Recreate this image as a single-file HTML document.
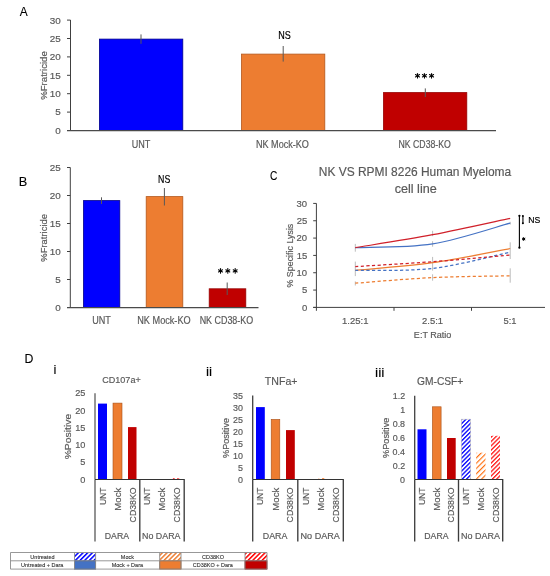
<!DOCTYPE html>
<html><head><meta charset="utf-8"><style>
html,body{margin:0;padding:0;background:#fff;width:550px;height:576px;overflow:hidden}
svg{display:block;will-change:transform}
text{font-family:"Liberation Sans",sans-serif}
</style></head><body>
<svg width="550" height="576" viewBox="0 0 550 576">
<defs><pattern id="hb" patternUnits="userSpaceOnUse" width="3.05" height="3.05" patternTransform="rotate(45)"><rect x="0" y="0" width="1.4" height="3.05" fill="#1010FF"/></pattern><pattern id="ho" patternUnits="userSpaceOnUse" width="3.75" height="3.75" patternTransform="rotate(45)"><rect x="0" y="0" width="1.15" height="3.75" fill="#FF6C0A"/></pattern><pattern id="hr" patternUnits="userSpaceOnUse" width="3.05" height="3.05" patternTransform="rotate(45)"><rect x="0" y="0" width="1.3" height="3.05" fill="#FF1A1A"/></pattern><pattern id="lhb" patternUnits="userSpaceOnUse" width="3.3" height="3.3" patternTransform="rotate(45)"><rect x="0" y="0" width="1.5" height="3.3" fill="#0000FF"/></pattern><pattern id="lho" patternUnits="userSpaceOnUse" width="3.3" height="3.3" patternTransform="rotate(45)"><rect x="0" y="0" width="1.5" height="3.3" fill="#ED7D31"/></pattern><pattern id="lhr" patternUnits="userSpaceOnUse" width="3.3" height="3.3" patternTransform="rotate(45)"><rect x="0" y="0" width="1.5" height="3.3" fill="#FF0000"/></pattern></defs>
<rect width="550" height="576" fill="#fff"/>
<text transform="translate(19.78,15.76) scale(0.877,1)" font-size="13.60" fill="#000" stroke="#000" stroke-width="0.1">A</text>
<line x1="67" y1="130.5" x2="70.5" y2="130.5" stroke="#404040" stroke-width="1" />
<text transform="translate(55.27,133.91) scale(1.000,1)" font-size="9.90" fill="#595959" stroke="#595959" stroke-width="0.18">0</text>
<line x1="67" y1="112.1" x2="70.5" y2="112.1" stroke="#404040" stroke-width="1" />
<text transform="translate(55.31,115.46) scale(1.000,1)" font-size="9.90" fill="#595959" stroke="#595959" stroke-width="0.18">5</text>
<line x1="67" y1="93.7" x2="70.5" y2="93.7" stroke="#404040" stroke-width="1" />
<text transform="translate(49.77,97.11) scale(1.000,1)" font-size="9.90" fill="#595959" stroke="#595959" stroke-width="0.18">10</text>
<line x1="67" y1="75.30000000000001" x2="70.5" y2="75.30000000000001" stroke="#404040" stroke-width="1" />
<text transform="translate(49.81,78.66) scale(1.000,1)" font-size="9.90" fill="#595959" stroke="#595959" stroke-width="0.18">15</text>
<line x1="67" y1="56.900000000000006" x2="70.5" y2="56.900000000000006" stroke="#404040" stroke-width="1" />
<text transform="translate(49.77,60.31) scale(1.000,1)" font-size="9.90" fill="#595959" stroke="#595959" stroke-width="0.18">20</text>
<line x1="67" y1="38.5" x2="70.5" y2="38.5" stroke="#404040" stroke-width="1" />
<text transform="translate(49.81,41.91) scale(1.000,1)" font-size="9.90" fill="#595959" stroke="#595959" stroke-width="0.18">25</text>
<line x1="67" y1="20.10000000000001" x2="70.5" y2="20.10000000000001" stroke="#404040" stroke-width="1" />
<text transform="translate(49.77,23.51) scale(1.000,1)" font-size="9.90" fill="#595959" stroke="#595959" stroke-width="0.18">30</text>
<line x1="70.5" y1="20" x2="70.5" y2="131" stroke="#404040" stroke-width="1" />
<rect x="99.4" y="39.1" width="83.40" height="91.40" fill="#0000FF" stroke="#00008C" stroke-width="0.8"/>
<rect x="241.5" y="54.1" width="83.30" height="76.40" fill="#ED7D31" stroke="#B4581C" stroke-width="0.8"/>
<rect x="383.5" y="92.6" width="83.30" height="37.90" fill="#C00000" stroke="#960000" stroke-width="0.8"/>
<line x1="67" y1="130.5" x2="496" y2="130.5" stroke="#4A4A4A" stroke-width="1.25" />
<line x1="141" y1="34.4" x2="141" y2="43.8" stroke="#595959" stroke-width="1" />
<line x1="283.2" y1="46" x2="283.2" y2="61.6" stroke="#595959" stroke-width="1" />
<line x1="425.3" y1="88.4" x2="425.3" y2="97" stroke="#595959" stroke-width="1" />
<text transform="translate(278.16,38.58) scale(0.903,1)" font-size="10.00" fill="#000" stroke="#000" stroke-width="0.18">NS</text>
<line x1="417.5" y1="73.4" x2="417.5" y2="78.1" stroke="#000" stroke-width="1.05" stroke-linecap="round"/>
<line x1="415.46" y1="74.58" x2="419.54" y2="76.92" stroke="#000" stroke-width="1.05" stroke-linecap="round"/>
<line x1="415.46" y1="76.92" x2="419.54" y2="74.58" stroke="#000" stroke-width="1.05" stroke-linecap="round"/>
<line x1="424.45" y1="73.4" x2="424.45" y2="78.1" stroke="#000" stroke-width="1.05" stroke-linecap="round"/>
<line x1="422.41" y1="74.58" x2="426.49" y2="76.92" stroke="#000" stroke-width="1.05" stroke-linecap="round"/>
<line x1="422.41" y1="76.92" x2="426.49" y2="74.58" stroke="#000" stroke-width="1.05" stroke-linecap="round"/>
<line x1="431.55" y1="73.4" x2="431.55" y2="78.1" stroke="#000" stroke-width="1.05" stroke-linecap="round"/>
<line x1="429.51" y1="74.58" x2="433.59" y2="76.92" stroke="#000" stroke-width="1.05" stroke-linecap="round"/>
<line x1="429.51" y1="76.92" x2="433.59" y2="74.58" stroke="#000" stroke-width="1.05" stroke-linecap="round"/>
<text transform="translate(131.79,147.60) scale(0.897,1)" font-size="10.10" fill="#595959" stroke="#595959" stroke-width="0.18">UNT</text>
<text transform="translate(255.96,147.60) scale(0.899,1)" font-size="10.10" fill="#595959" stroke="#595959" stroke-width="0.18">NK Mock-KO</text>
<text transform="translate(398.48,147.60) scale(0.865,1)" font-size="10.10" fill="#595959" stroke="#595959" stroke-width="0.18">NK CD38-KO</text>
<text transform="translate(46.71,99.85) rotate(-90) scale(1.041,1)" font-size="9.26" fill="#595959" stroke="#595959" stroke-width="0.18">%Fratricide</text>
<text transform="translate(18.85,185.88) scale(0.968,1)" font-size="13.20" fill="#000" stroke="#000" stroke-width="0.1">B</text>
<line x1="67" y1="307.5" x2="70.3" y2="307.5" stroke="#404040" stroke-width="1" />
<text transform="translate(55.27,310.91) scale(1.000,1)" font-size="9.90" fill="#595959" stroke="#595959" stroke-width="0.18">0</text>
<line x1="67" y1="279.5" x2="70.3" y2="279.5" stroke="#404040" stroke-width="1" />
<text transform="translate(55.31,282.86) scale(1.000,1)" font-size="9.90" fill="#595959" stroke="#595959" stroke-width="0.18">5</text>
<line x1="67" y1="251.5" x2="70.3" y2="251.5" stroke="#404040" stroke-width="1" />
<text transform="translate(49.77,254.91) scale(1.000,1)" font-size="9.90" fill="#595959" stroke="#595959" stroke-width="0.18">10</text>
<line x1="67" y1="223.5" x2="70.3" y2="223.5" stroke="#404040" stroke-width="1" />
<text transform="translate(49.81,226.86) scale(1.000,1)" font-size="9.90" fill="#595959" stroke="#595959" stroke-width="0.18">15</text>
<line x1="67" y1="195.5" x2="70.3" y2="195.5" stroke="#404040" stroke-width="1" />
<text transform="translate(49.77,198.91) scale(1.000,1)" font-size="9.90" fill="#595959" stroke="#595959" stroke-width="0.18">20</text>
<line x1="67" y1="167.5" x2="70.3" y2="167.5" stroke="#404040" stroke-width="1" />
<text transform="translate(49.81,170.91) scale(1.000,1)" font-size="9.90" fill="#595959" stroke="#595959" stroke-width="0.18">25</text>
<line x1="70.3" y1="167.5" x2="70.3" y2="308" stroke="#404040" stroke-width="1" />
<rect x="83.5" y="200.6" width="36.30" height="106.90" fill="#0000FF" stroke="#00008C" stroke-width="0.8"/>
<rect x="146.2" y="196.6" width="36.60" height="110.90" fill="#ED7D31" stroke="#B4581C" stroke-width="0.8"/>
<rect x="209.2" y="288.8" width="36.60" height="18.70" fill="#C00000" stroke="#960000" stroke-width="0.8"/>
<line x1="67" y1="307.5" x2="258.5" y2="307.5" stroke="#4A4A4A" stroke-width="1.25" />
<line x1="101.5" y1="197.3" x2="101.5" y2="204" stroke="#595959" stroke-width="1" />
<line x1="164.4" y1="188" x2="164.4" y2="205.5" stroke="#595959" stroke-width="1" />
<line x1="227.2" y1="282.5" x2="227.2" y2="295" stroke="#595959" stroke-width="1" />
<text transform="translate(158.08,182.68) scale(0.880,1)" font-size="10.00" fill="#000" stroke="#000" stroke-width="0.18">NS</text>
<line x1="220.5" y1="268.6" x2="220.5" y2="273.2" stroke="#000" stroke-width="1.05" stroke-linecap="round"/>
<line x1="218.51" y1="269.75" x2="222.49" y2="272.05" stroke="#000" stroke-width="1.05" stroke-linecap="round"/>
<line x1="218.51" y1="272.05" x2="222.49" y2="269.75" stroke="#000" stroke-width="1.05" stroke-linecap="round"/>
<line x1="227.8" y1="268.6" x2="227.8" y2="273.2" stroke="#000" stroke-width="1.05" stroke-linecap="round"/>
<line x1="225.81" y1="269.75" x2="229.79" y2="272.05" stroke="#000" stroke-width="1.05" stroke-linecap="round"/>
<line x1="225.81" y1="272.05" x2="229.79" y2="269.75" stroke="#000" stroke-width="1.05" stroke-linecap="round"/>
<line x1="235.2" y1="268.6" x2="235.2" y2="273.2" stroke="#000" stroke-width="1.05" stroke-linecap="round"/>
<line x1="233.21" y1="269.75" x2="237.19" y2="272.05" stroke="#000" stroke-width="1.05" stroke-linecap="round"/>
<line x1="233.21" y1="272.05" x2="237.19" y2="269.75" stroke="#000" stroke-width="1.05" stroke-linecap="round"/>
<text transform="translate(92.29,324.20) scale(0.897,1)" font-size="10.10" fill="#595959" stroke="#595959" stroke-width="0.18">UNT</text>
<text transform="translate(137.25,324.20) scale(0.908,1)" font-size="10.10" fill="#595959" stroke="#595959" stroke-width="0.18">NK Mock-KO</text>
<text transform="translate(199.67,324.20) scale(0.884,1)" font-size="10.10" fill="#595959" stroke="#595959" stroke-width="0.18">NK CD38-KO</text>
<text transform="translate(46.81,261.64) rotate(-90) scale(1.033,1)" font-size="9.13" fill="#595959" stroke="#595959" stroke-width="0.18">%Fratricide</text>
<text transform="translate(269.99,180.35) scale(0.765,1)" font-size="13.40" fill="#000" stroke="#000" stroke-width="0.1">C</text>
<text transform="translate(318.82,175.99) scale(1.005,1)" font-size="11.90" fill="#595959" stroke="#595959" stroke-width="0.18">NK VS RPMI 8226 Human Myeloma</text>
<text transform="translate(394.67,192.60) scale(1.061,1)" font-size="11.90" fill="#595959" stroke="#595959" stroke-width="0.18">cell line</text>
<line x1="313.2" y1="307.4" x2="316.4" y2="307.4" stroke="#404040" stroke-width="1" />
<text transform="translate(301.88,310.70) scale(0.990,1)" font-size="9.60" fill="#595959" stroke="#595959" stroke-width="0.18">0</text>
<line x1="313.2" y1="290.07" x2="316.4" y2="290.07" stroke="#404040" stroke-width="1" />
<text transform="translate(301.91,293.32) scale(0.990,1)" font-size="9.60" fill="#595959" stroke="#595959" stroke-width="0.18">5</text>
<line x1="313.2" y1="272.74" x2="316.4" y2="272.74" stroke="#404040" stroke-width="1" />
<text transform="translate(296.59,276.04) scale(0.990,1)" font-size="9.60" fill="#595959" stroke="#595959" stroke-width="0.18">10</text>
<line x1="313.2" y1="255.40999999999997" x2="316.4" y2="255.40999999999997" stroke="#404040" stroke-width="1" />
<text transform="translate(296.63,258.66) scale(0.990,1)" font-size="9.60" fill="#595959" stroke="#595959" stroke-width="0.18">15</text>
<line x1="313.2" y1="238.07999999999998" x2="316.4" y2="238.07999999999998" stroke="#404040" stroke-width="1" />
<text transform="translate(296.59,241.38) scale(0.990,1)" font-size="9.60" fill="#595959" stroke="#595959" stroke-width="0.18">20</text>
<line x1="313.2" y1="220.75" x2="316.4" y2="220.75" stroke="#404040" stroke-width="1" />
<text transform="translate(296.63,224.05) scale(0.990,1)" font-size="9.60" fill="#595959" stroke="#595959" stroke-width="0.18">25</text>
<line x1="313.2" y1="203.42" x2="316.4" y2="203.42" stroke="#404040" stroke-width="1" />
<text transform="translate(296.59,206.72) scale(0.990,1)" font-size="9.60" fill="#595959" stroke="#595959" stroke-width="0.18">30</text>
<line x1="316.4" y1="203.4" x2="316.4" y2="310.8" stroke="#404040" stroke-width="1" />
<line x1="313.2" y1="307.4" x2="545" y2="307.4" stroke="#404040" stroke-width="1" />
<line x1="394" y1="307.4" x2="394" y2="310.8" stroke="#404040" stroke-width="1" />
<line x1="471.5" y1="307.4" x2="471.5" y2="310.8" stroke="#404040" stroke-width="1" />
<text transform="translate(342.08,323.89) scale(1.020,1)" font-size="9.30" fill="#595959" stroke="#595959" stroke-width="0.18">1.25:1</text>
<text transform="translate(422.03,323.89) scale(1.017,1)" font-size="9.30" fill="#595959" stroke="#595959" stroke-width="0.18">2.5:1</text>
<text transform="translate(503.53,323.80) scale(1.008,1)" font-size="9.30" fill="#595959" stroke="#595959" stroke-width="0.18">5:1</text>
<text transform="translate(413.86,337.62) scale(1.005,1)" font-size="9.00" fill="#595959" stroke="#595959" stroke-width="0.18">E:T Ratio</text>
<text transform="translate(293.27,287.52) rotate(-90) scale(0.916,1)" font-size="9.70" fill="#595959" stroke="#595959" stroke-width="0.18">% Specific Lysis</text>
<line x1="355.3" y1="243.9" x2="355.3" y2="251.7" stroke="#BCBCBC" stroke-width="1.0" />
<line x1="355.3" y1="261.6" x2="355.3" y2="276.1" stroke="#BCBCBC" stroke-width="1.0" />
<line x1="355.3" y1="281.4" x2="355.3" y2="285.5" stroke="#BCBCBC" stroke-width="1.0" />
<line x1="432.6" y1="230.8" x2="432.6" y2="236.2" stroke="#BCBCBC" stroke-width="1.0" />
<line x1="432.6" y1="241.2" x2="432.6" y2="246.7" stroke="#BCBCBC" stroke-width="1.0" />
<line x1="432.6" y1="256.9" x2="432.6" y2="270.6" stroke="#BCBCBC" stroke-width="1.0" />
<line x1="432.6" y1="274.3" x2="432.6" y2="280.7" stroke="#BCBCBC" stroke-width="1.0" />
<line x1="510.2" y1="221.8" x2="510.2" y2="224.6" stroke="#BCBCBC" stroke-width="1.0" />
<line x1="510.2" y1="242.3" x2="510.2" y2="259.0" stroke="#BCBCBC" stroke-width="1.0" />
<line x1="510.2" y1="268.3" x2="510.2" y2="282.7" stroke="#BCBCBC" stroke-width="1.0" />
<path d="M355.30,283.20 C368.18,282.27 406.78,278.83 432.60,277.60 C458.42,276.37 497.27,276.10 510.20,275.80" fill="none" stroke="#ED7D31" stroke-width="1.25" stroke-dasharray="3.2,2.4"/>
<path d="M355.30,270.40 C368.18,269.12 406.78,266.35 432.60,262.70 C458.42,259.05 497.27,250.87 510.20,248.50" fill="none" stroke="#ED7D31" stroke-width="1.25"/>
<path d="M355.30,270.40 C368.18,270.07 406.78,271.43 432.60,268.40 C458.42,265.37 497.27,254.90 510.20,252.20" fill="none" stroke="#4472C4" stroke-width="1.25" stroke-dasharray="3.2,2.4"/>
<path d="M355.30,266.60 C368.18,265.78 406.78,263.62 432.60,261.70 C458.42,259.78 497.27,256.20 510.20,255.10" fill="none" stroke="#D0202A" stroke-width="1.25" stroke-dasharray="3.2,2.4"/>
<path d="M355.30,247.70 C368.18,247.07 406.78,248.00 432.60,243.90 C458.42,239.80 497.27,226.57 510.20,223.10" fill="none" stroke="#4472C4" stroke-width="1.25"/>
<path d="M355.30,247.70 C368.18,245.53 406.78,239.60 432.60,234.70 C458.42,229.80 497.27,221.03 510.20,218.30" fill="none" stroke="#D0202A" stroke-width="1.25"/>
<line x1="519.4" y1="215.5" x2="519.4" y2="248" stroke="#000" stroke-width="1.1" />
<circle cx="519.4" cy="215.8" r="1.1" fill="#000"/><circle cx="519.4" cy="247.7" r="1.1" fill="#000"/>
<line x1="522.9" y1="215.8" x2="522.9" y2="223.5" stroke="#555" stroke-width="1.6" />
<circle cx="522.9" cy="216" r="1.0" fill="#000"/><circle cx="522.9" cy="223.3" r="1.0" fill="#000"/>
<text transform="translate(528.19,223.21) scale(0.971,1)" font-size="8.90" fill="#000" stroke="#000" stroke-width="0.18">NS</text>
<line x1="523.65" y1="237.55" x2="523.65" y2="240.45" stroke="#000" stroke-width="1.0" stroke-linecap="round"/>
<line x1="522.39" y1="238.28" x2="524.91" y2="239.72" stroke="#000" stroke-width="1.0" stroke-linecap="round"/>
<line x1="522.39" y1="239.72" x2="524.91" y2="238.28" stroke="#000" stroke-width="1.0" stroke-linecap="round"/>
<text transform="translate(24.39,362.51) scale(0.941,1)" font-size="13.10" fill="#000" stroke="#000" stroke-width="0.1">D</text>
<text transform="translate(53.54,373.88) scale(1.000,1)" font-size="13.10" fill="#000" stroke="#000" stroke-width="0.1">i</text>
<text transform="translate(205.99,375.76) scale(1.050,1)" font-size="13.20" fill="#000" stroke="#000" stroke-width="0.1">ii</text>
<text transform="translate(375.06,376.67) scale(1.050,1)" font-size="13.50" fill="#000" stroke="#000" stroke-width="0.1">iii</text>
<rect x="98" y="403.6" width="9.00" height="75.90" fill="#0000FF" />
<rect x="113" y="403.1" width="9.00" height="76.40" fill="#ED7D31" stroke="#A85018" stroke-width="0.6"/>
<rect x="128" y="427.1" width="8.50" height="52.40" fill="#C00000" />
<rect x="172.5" y="478.2" width="8.00" height="1.30" fill="url(#hr)" />
<line x1="95" y1="393.2" x2="95" y2="479.5" stroke="#5E5E5E" stroke-width="1.3" />
<line x1="95" y1="479.5" x2="95" y2="541.6" stroke="#5E5E5E" stroke-width="1.35" />
<line x1="139.8" y1="479.5" x2="139.8" y2="541.6" stroke="#3C3C3C" stroke-width="1.35" />
<line x1="184.2" y1="479.5" x2="184.2" y2="541.6" stroke="#3C3C3C" stroke-width="1.35" />
<line x1="95" y1="479.5" x2="184.7" y2="479.5" stroke="#333" stroke-width="1.1" />
<text transform="translate(80.33,482.80) scale(0.960,1)" font-size="9.60" fill="#595959" stroke="#595959" stroke-width="0.18">0</text>
<text transform="translate(80.36,465.45) scale(0.960,1)" font-size="9.60" fill="#595959" stroke="#595959" stroke-width="0.18">5</text>
<text transform="translate(75.20,448.20) scale(0.960,1)" font-size="9.60" fill="#595959" stroke="#595959" stroke-width="0.18">10</text>
<text transform="translate(75.24,430.85) scale(0.960,1)" font-size="9.60" fill="#595959" stroke="#595959" stroke-width="0.18">15</text>
<text transform="translate(75.20,413.60) scale(0.960,1)" font-size="9.60" fill="#595959" stroke="#595959" stroke-width="0.18">20</text>
<text transform="translate(75.24,396.30) scale(0.960,1)" font-size="9.60" fill="#595959" stroke="#595959" stroke-width="0.18">25</text>
<text transform="translate(70.50,459.37) rotate(-90) scale(1.043,1)" font-size="9.95" fill="#595959" stroke="#595959" stroke-width="0.18">%Positive</text>
<text transform="translate(102.25,382.81) scale(0.957,1)" font-size="9.46" fill="#595959" stroke="#595959" stroke-width="0.18">CD107a+</text>
<text transform="translate(105.59,505.09) rotate(-90) scale(0.930,1)" font-size="9.20" fill="#595959" stroke="#595959" stroke-width="0.18">UNT</text>
<text transform="translate(120.68,510.79) rotate(-90) scale(1.050,1)" font-size="9.20" fill="#595959" stroke="#595959" stroke-width="0.18">Mock</text>
<text transform="translate(135.50,522.44) rotate(-90) scale(0.955,1)" font-size="9.20" fill="#595959" stroke="#595959" stroke-width="0.18">CD38KO</text>
<text transform="translate(150.32,505.09) rotate(-90) scale(0.930,1)" font-size="9.20" fill="#595959" stroke="#595959" stroke-width="0.18">UNT</text>
<text transform="translate(165.28,510.79) rotate(-90) scale(1.050,1)" font-size="9.20" fill="#595959" stroke="#595959" stroke-width="0.18">Mock</text>
<text transform="translate(179.96,522.44) rotate(-90) scale(0.955,1)" font-size="9.20" fill="#595959" stroke="#595959" stroke-width="0.18">CD38KO</text>
<text transform="translate(104.78,538.60) scale(0.957,1)" font-size="9.16" fill="#595959" stroke="#595959" stroke-width="0.18">DARA</text>
<text transform="translate(141.97,538.51) scale(0.985,1)" font-size="9.03" fill="#595959" stroke="#595959" stroke-width="0.18">No DARA</text>
<rect x="256" y="407.1" width="8.80" height="72.40" fill="#0000FF" />
<rect x="271.2" y="419.4" width="8.60" height="60.10" fill="#ED7D31" stroke="#A85018" stroke-width="0.6"/>
<rect x="286" y="430.1" width="8.80" height="49.40" fill="#C00000" />
<rect x="318.5" y="478.0" width="8.00" height="1.50" fill="url(#ho)" />
<line x1="252.7" y1="395.6" x2="252.7" y2="479.5" stroke="#404040" stroke-width="1.3" />
<line x1="252.7" y1="479.5" x2="252.7" y2="541.6" stroke="#404040" stroke-width="1.35" />
<line x1="297.8" y1="479.5" x2="297.8" y2="541.6" stroke="#3C3C3C" stroke-width="1.35" />
<line x1="343.3" y1="479.5" x2="343.3" y2="541.6" stroke="#3C3C3C" stroke-width="1.35" />
<line x1="252.7" y1="479.5" x2="343.8" y2="479.5" stroke="#333" stroke-width="1.1" />
<text transform="translate(237.98,482.80) scale(0.960,1)" font-size="9.30" fill="#595959" stroke="#595959" stroke-width="0.18">0</text>
<text transform="translate(238.01,470.75) scale(0.960,1)" font-size="9.30" fill="#595959" stroke="#595959" stroke-width="0.18">5</text>
<text transform="translate(233.01,458.80) scale(0.960,1)" font-size="9.30" fill="#595959" stroke="#595959" stroke-width="0.18">10</text>
<text transform="translate(233.05,446.75) scale(0.960,1)" font-size="9.30" fill="#595959" stroke="#595959" stroke-width="0.18">15</text>
<text transform="translate(233.01,434.80) scale(0.960,1)" font-size="9.30" fill="#595959" stroke="#595959" stroke-width="0.18">20</text>
<text transform="translate(233.05,422.80) scale(0.960,1)" font-size="9.30" fill="#595959" stroke="#595959" stroke-width="0.18">25</text>
<text transform="translate(233.01,410.80) scale(0.960,1)" font-size="9.30" fill="#595959" stroke="#595959" stroke-width="0.18">30</text>
<text transform="translate(233.05,398.80) scale(0.960,1)" font-size="9.30" fill="#595959" stroke="#595959" stroke-width="0.18">35</text>
<text transform="translate(228.51,457.93) rotate(-90) scale(1.062,1)" font-size="8.58" fill="#595959" stroke="#595959" stroke-width="0.18">%Positive</text>
<text transform="translate(264.77,384.69) scale(0.927,1)" font-size="11.46" fill="#595959" stroke="#595959" stroke-width="0.18">TNFa+</text>
<text transform="translate(263.34,505.09) rotate(-90) scale(0.930,1)" font-size="9.20" fill="#595959" stroke="#595959" stroke-width="0.18">UNT</text>
<text transform="translate(278.53,510.79) rotate(-90) scale(1.050,1)" font-size="9.20" fill="#595959" stroke="#595959" stroke-width="0.18">Mock</text>
<text transform="translate(293.45,522.44) rotate(-90) scale(0.955,1)" font-size="9.20" fill="#595959" stroke="#595959" stroke-width="0.18">CD38KO</text>
<text transform="translate(308.50,505.09) rotate(-90) scale(0.930,1)" font-size="9.20" fill="#595959" stroke="#595959" stroke-width="0.18">UNT</text>
<text transform="translate(323.83,510.79) rotate(-90) scale(1.050,1)" font-size="9.20" fill="#595959" stroke="#595959" stroke-width="0.18">Mock</text>
<text transform="translate(338.88,522.44) rotate(-90) scale(0.955,1)" font-size="9.20" fill="#595959" stroke="#595959" stroke-width="0.18">CD38KO</text>
<text transform="translate(262.77,538.60) scale(0.969,1)" font-size="9.16" fill="#595959" stroke="#595959" stroke-width="0.18">DARA</text>
<text transform="translate(300.56,538.51) scale(1.006,1)" font-size="9.03" fill="#595959" stroke="#595959" stroke-width="0.18">No DARA</text>
<rect x="417.5" y="429.3" width="9.00" height="50.20" fill="#0000FF" />
<rect x="432.4" y="406.8" width="8.70" height="72.70" fill="#ED7D31" stroke="#A85018" stroke-width="0.6"/>
<rect x="447" y="438" width="8.70" height="41.50" fill="#C00000" />
<rect x="461.3" y="419.2" width="9.40" height="60.30" fill="url(#hb)" stroke="#BFBFBF" stroke-width="0.6"/>
<rect x="476.2" y="452.7" width="9.30" height="26.80" fill="url(#ho)" />
<rect x="491" y="435.8" width="9.00" height="43.70" fill="url(#hr)" />
<line x1="414.7" y1="395.8" x2="414.7" y2="479.5" stroke="#404040" stroke-width="1.3" />
<line x1="414.7" y1="479.5" x2="414.7" y2="541.6" stroke="#404040" stroke-width="1.35" />
<line x1="458.5" y1="479.5" x2="458.5" y2="541.6" stroke="#3C3C3C" stroke-width="1.35" />
<line x1="502.7" y1="479.5" x2="502.7" y2="541.6" stroke="#3C3C3C" stroke-width="1.35" />
<line x1="414.7" y1="479.5" x2="503.2" y2="479.5" stroke="#333" stroke-width="1.1" />
<text transform="translate(400.08,482.70) scale(0.960,1)" font-size="9.30" fill="#595959" stroke="#595959" stroke-width="0.18">0</text>
<text transform="translate(392.74,468.75) scale(0.960,1)" font-size="9.30" fill="#595959" stroke="#595959" stroke-width="0.18">0.2</text>
<text transform="translate(392.56,454.80) scale(0.960,1)" font-size="9.30" fill="#595959" stroke="#595959" stroke-width="0.18">0.4</text>
<text transform="translate(392.68,440.85) scale(0.960,1)" font-size="9.30" fill="#595959" stroke="#595959" stroke-width="0.18">0.6</text>
<text transform="translate(392.68,426.90) scale(0.960,1)" font-size="9.30" fill="#595959" stroke="#595959" stroke-width="0.18">0.8</text>
<text transform="translate(400.16,412.95) scale(0.960,1)" font-size="9.30" fill="#595959" stroke="#595959" stroke-width="0.18">1</text>
<text transform="translate(392.74,399.05) scale(0.960,1)" font-size="9.30" fill="#595959" stroke="#595959" stroke-width="0.18">1.2</text>
<text transform="translate(388.71,457.93) rotate(-90) scale(1.070,1)" font-size="8.58" fill="#595959" stroke="#595959" stroke-width="0.18">%Positive</text>
<text transform="translate(417.09,384.50) scale(0.992,1)" font-size="10.31" fill="#595959" stroke="#595959" stroke-width="0.18">GM-CSF+</text>
<text transform="translate(425.12,505.09) rotate(-90) scale(0.930,1)" font-size="9.20" fill="#595959" stroke="#595959" stroke-width="0.18">UNT</text>
<text transform="translate(439.88,510.79) rotate(-90) scale(1.050,1)" font-size="9.20" fill="#595959" stroke="#595959" stroke-width="0.18">Mock</text>
<text transform="translate(454.36,522.44) rotate(-90) scale(0.955,1)" font-size="9.20" fill="#595959" stroke="#595959" stroke-width="0.18">CD38KO</text>
<text transform="translate(468.99,505.09) rotate(-90) scale(0.930,1)" font-size="9.20" fill="#595959" stroke="#595959" stroke-width="0.18">UNT</text>
<text transform="translate(483.88,510.79) rotate(-90) scale(1.050,1)" font-size="9.20" fill="#595959" stroke="#595959" stroke-width="0.18">Mock</text>
<text transform="translate(498.50,522.44) rotate(-90) scale(0.955,1)" font-size="9.20" fill="#595959" stroke="#595959" stroke-width="0.18">CD38KO</text>
<text transform="translate(424.28,538.60) scale(0.953,1)" font-size="9.16" fill="#595959" stroke="#595959" stroke-width="0.18">DARA</text>
<text transform="translate(460.96,538.51) scale(0.996,1)" font-size="9.03" fill="#595959" stroke="#595959" stroke-width="0.18">No DARA</text>
<rect x="74.5" y="552.5" width="21.10" height="8.30" fill="url(#lhb)" />
<rect x="159.7" y="552.5" width="21.30" height="8.30" fill="url(#lho)" />
<rect x="245" y="552.5" width="22.00" height="8.30" fill="url(#lhr)" />
<rect x="74.5" y="560.8" width="21.10" height="8.30" fill="#4472C4" stroke="#2F528F" stroke-width="0.8"/>
<rect x="159.7" y="560.8" width="21.30" height="8.30" fill="#ED7D31" stroke="#AE5A21" stroke-width="0.8"/>
<rect x="245" y="560.8" width="22.00" height="8.30" fill="#C00000" stroke="#8B0000" stroke-width="0.8"/>
<line x1="10.5" y1="552.5" x2="267" y2="552.5" stroke="#8C8C8C" stroke-width="0.9" />
<line x1="10.5" y1="560.8" x2="267" y2="560.8" stroke="#8C8C8C" stroke-width="0.9" />
<line x1="10.5" y1="569.1" x2="267" y2="569.1" stroke="#8C8C8C" stroke-width="0.9" />
<line x1="10.5" y1="552.5" x2="10.5" y2="569.1" stroke="#8C8C8C" stroke-width="0.9" />
<line x1="74.5" y1="552.5" x2="74.5" y2="569.1" stroke="#8C8C8C" stroke-width="0.9" />
<line x1="95.6" y1="552.5" x2="95.6" y2="569.1" stroke="#8C8C8C" stroke-width="0.9" />
<line x1="159.7" y1="552.5" x2="159.7" y2="569.1" stroke="#8C8C8C" stroke-width="0.9" />
<line x1="181" y1="552.5" x2="181" y2="569.1" stroke="#8C8C8C" stroke-width="0.9" />
<line x1="245" y1="552.5" x2="245" y2="569.1" stroke="#8C8C8C" stroke-width="0.9" />
<line x1="267" y1="552.5" x2="267" y2="569.1" stroke="#8C8C8C" stroke-width="0.9" />
<text transform="translate(30.36,559.10) scale(0.950,1)" font-size="5.80" fill="#333333" stroke="#333333" stroke-width="0.12">Untreated</text>
<text transform="translate(21.08,567.30) scale(0.950,1)" font-size="5.80" fill="#333333" stroke="#333333" stroke-width="0.12">Untreated + Dara</text>
<text transform="translate(120.84,559.10) scale(0.950,1)" font-size="5.80" fill="#333333" stroke="#333333" stroke-width="0.12">Mock</text>
<text transform="translate(111.73,567.30) scale(0.950,1)" font-size="5.80" fill="#333333" stroke="#333333" stroke-width="0.12">Mock + Dara</text>
<text transform="translate(201.97,558.95) scale(0.950,1)" font-size="5.80" fill="#333333" stroke="#333333" stroke-width="0.12">CD38KO</text>
<text transform="translate(192.73,567.15) scale(0.950,1)" font-size="5.80" fill="#333333" stroke="#333333" stroke-width="0.12">CD38KO + Dara</text>
</svg>
</body></html>
